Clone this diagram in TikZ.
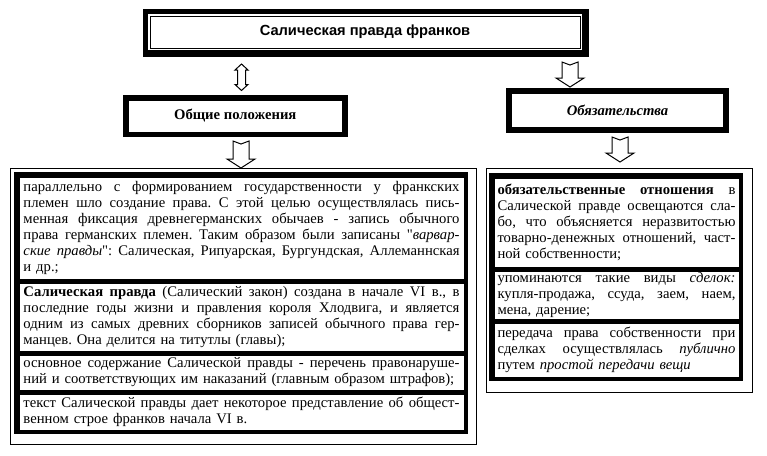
\documentclass[tikz,border=0pt]{standalone}
\usepackage{fontspec}
\setmainfont{Liberation Serif}
\newfontfamily\titlefam{Liberation Sans}
\frenchspacing
\newcommand{\sq}{\XeTeXglyph\numexpr\XeTeXcharglyph"22\relax\relax}
\newcommand{\jl}[1]{\makebox[327pt][s]{\spaceskip=0pt\xspaceskip=0pt #1}\\}
\newcommand{\jr}[1]{\makebox[178.5pt][s]{\spaceskip=0pt\xspaceskip=0pt #1}\\}
\newcommand{\bodyfnt}{\fontsize{11}{12}\selectfont\frenchspacing}
\newcommand{\blockdown}[3]{%
  \draw[blockarrow] ({#1-8},{#2}) -- ({#1},{#2+3}) -- ({#1+8},{#2}) -- ({#1+8},{#3-9}) -- ({#1+14},{#3-9}) -- ({#1},{#3}) -- ({#1-14},{#3-9}) -- ({#1-8},{#3-9}) -- cycle;}
\newcommand{\blockupdown}[3]{%
  \draw[blockarrow] ({#1},{#2}) -- ({#1+6.5},{#2+6}) -- ({#1+4},{#2+6}) -- ({#1+4},{#3-6}) -- ({#1+6.5},{#3-6}) -- ({#1},{#3}) -- ({#1-6.5},{#3-6}) -- ({#1-4},{#3-6}) -- ({#1-4},{#2+6}) -- ({#1-6.5},{#2+6}) -- cycle;}
\tikzset{
  blockarrow/.style={draw=black, fill=white, line width=0.75pt, line join=miter},
  cellL/.style={fill=white, inner xsep=3pt, inner ysep=0pt, text width=327pt,
    minimum height={#1*0.75pt}, anchor=north west, align=left, font=\bodyfnt},
  cellR/.style={fill=white, inner xsep=2.25pt, inner ysep=0pt, text width=178.5pt,
    minimum height={#1*0.75pt}, anchor=north west, align=left, font=\bodyfnt},
  headbox/.style={fill=white, inner sep=0pt},
}
\begin{document}
\begin{tikzpicture}[x=0.75pt,y=-0.75pt, line width=0.75pt]
\useasboundingbox[fill=white] (0,0) rectangle (767,455);

% title box
\fill (143,9) rectangle (589,57);
\fill[white] (148,14) rectangle (582,50);
\node[draw, headbox, minimum width={430*0.75pt}, minimum height={32*0.75pt},
  font={\titlefam\bfseries\fontsize{11}{13}\selectfont}] (title) at (365,32) {Салическая правда франков};

% general box
\fill (123,95) rectangle (348,137);
\node[headbox, minimum width={213.5*0.75pt}, minimum height={31*0.75pt},
  font={\bfseries\fontsize{11}{13}\selectfont}] (general) at (235.25,116) {Общие положения};

% obligations box
\fill (506,88) rectangle (729,133);
\node[headbox, minimum width={211*0.75pt}, minimum height={33*0.75pt},
  font={\bfseries\itshape\fontsize{11}{13}\selectfont}] (oblig) at (617.5,110.5) {Обязательства};

% arrows
\blockupdown{241.5}{64}{90.5}
\blockdown{570}{62}{87}
\blockdown{241}{141}{168}
\blockdown{620}{137}{162}

% left panel
\draw (10,168) rectangle (476,444);
\fill (14,172) rectangle (468,434);
\node[cellL=101] (l1) at (19,177) {%
\jl{параллельно с формированием государственности у франкских}
\jl{племен шло создание права. С этой целью осуществлялась пись-}
\jl{менная фиксация древнегерманских обычаев - запись обычного}
\jl{права германских племен. Таким образом были записаны \sq\textit{варвар-}}
\jl{\textit{ские правды}\sq: Салическая, Рипуарская, Бургундская, Аллеманнская}
и др.;};
\node[cellL=67] (l2) at (19,283) {%
\jl{\textbf{Салическая правда} (Салический закон) создана в начале VI в., в}
\jl{последние годы жизни и правления короля Хлодвига, и является}
\jl{одним из самых древних сборников записей обычного права гер-}
манцев. Она делится на титутлы (главы);};
\node[cellL=34] (l3) at (19,355) {%
\jl{основное содержание Салической правды - перечень правонаруше-}
ний и соответствующих им наказаний (главным образом штрафов);};
\node[cellL=35] (l4) at (19,394) {%
\jl{текст Салической правды дает некоторое представление об общест-}
венном строе франков начала VI в.};

% right panel
\draw (486,168) rectangle (752,392);
\fill (489,173) rectangle (743,381);
\node[cellR=88] (r1) at (494,178) {%
\jr{\textbf{обязательственные отношения} в}
\jr{Салической правде освещаются сла-}
\jr{бо, что объясняется неразвитостью}
\jr{товарно-денежных отношений, част-}
ной собственности;};
\node[cellR=47] (r2) at (494,271) {%
\jr{упоминаются такие виды \textit{сделок:}}
\jr{купля-продажа, ссуда, заем, наем,}
мена, дарение;};
\node[cellR=53] (r3) at (494,323) {%
\jr{передача права собственности при}
\jr{сделках осуществлялась \textit{публично}}
путем \textit{простой передачи вещи}};
\end{tikzpicture}
\end{document}
